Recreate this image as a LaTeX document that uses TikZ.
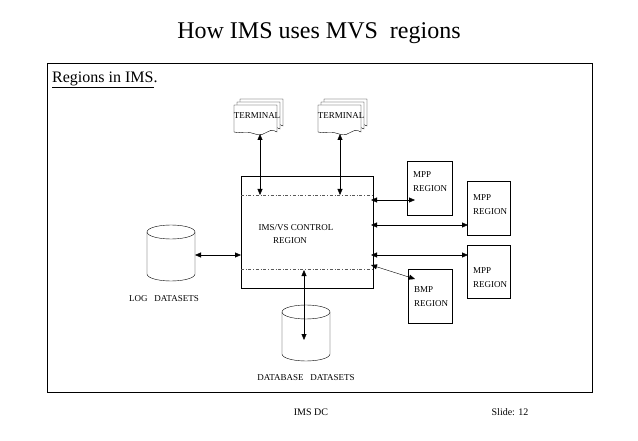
\documentclass[tikz,border=0pt]{standalone}
\usepackage{fontspec}
\setmainfont{Liberation Serif}
\usetikzlibrary{arrows.meta}
\begin{document}
\begin{tikzpicture}[x=1pt,y=-1pt,
  box/.style={draw,thin},
  lbl/.style={font=\fontsize{9}{10}\selectfont,align=left,inner sep=0},
  link/.style={{Triangle[length=6pt,width=5pt]}-{Triangle[length=6pt,width=5pt]},thin},
  pics/terminal/.style={code={
    \foreach \d in {6,3,0}{
      \filldraw[fill=white] (\d,-\d) -- ++(0,-27) -- ++(43,0) -- ++(0,27)
        .. controls ++(-10,-6) and ++(12,4) .. ++(-22,2)
        .. controls ++(-12,-4) and ++(10,2) .. cycle;}
  }},
  pics/drum/.style={code={
    \draw[thin] (-24,-21) -- (-24,21) arc[start angle=180,end angle=360,x radius=24,y radius=-7]
      -- (24,-21);
    \draw[thin] (0,-21) ellipse[x radius=24,y radius=7];
  }}]
\useasboundingbox (0,0) rectangle (638,441);
\node[font=\fontsize{24}{26}\selectfont] (title) at (319,33) {How IMS uses MVS\ \ regions};
\draw[thin] (47,63) rectangle (592,392);
\node[anchor=west,inner sep=0,font=\fontsize{16}{18}\selectfont] (sub) at (52,80) {\underline{Regions in IMS}.};

% terminals
\pic at (234,132) {terminal};
\node[lbl] (t1) at (257,116) {TERMINAL};
\coordinate (t1b) at (260,134);
\pic at (318,132) {terminal};
\node[lbl] (t2) at (341,116) {TERMINAL};
\coordinate (t2b) at (340,134);

% control region
\draw[box] (241,176) rectangle (373,288);
\draw[thin,dash dot,gray!70!black] (241,195) -- (373,195);
\draw[thin,dash dot,gray!70!black] (241,269) -- (373,269);
\node[lbl,align=center] (ctl) at (296,234) {IMS/VS CONTROL\\[3pt]\hspace*{-12pt}REGION};
\coordinate (c1) at (260,195);
\coordinate (c2) at (340,195);

% dependent regions
\draw[box] (407,161) rectangle (452,215);
\node[lbl,anchor=north west] (m1) at (413,171) {MPP\\[4pt]REGION};
\draw[box] (467,181) rectangle (510,235);
\node[lbl,anchor=north west] (m2) at (473,194) {MPP\\[4pt]REGION};
\draw[box] (467,245) rectangle (510,298);
\node[lbl,anchor=north west] (m3) at (473,267) {MPP\\[4pt]REGION};
\draw[box] (408,269) rectangle (452,323);
\node[lbl,anchor=north west] (b1) at (414,286) {BMP\\[4pt]REGION};

\draw[link] (t1b) -- (c1);
\draw[link] (t2b) -- (c2);
\draw[link] (371,200) -- (415,200);
\draw[link] (371,225) -- (468,225);
\draw[link] (371,255) -- (468,255);
\draw[link] (371,265) -- (415,279);

% datasets
\pic at (171,253) {drum};
\coordinate (logr) at (195,255);
\node[lbl] (logl) at (164,299) {LOG\ \ \ DATASETS};
\pic at (306,333) {drum};
\node[lbl] (dbl) at (306,378) {DATABASE\ \ \ DATASETS};
\draw[link] (logr) -- (241,255);
\draw[link] (304,270) -- (304,340);

% footer
\node[font=\fontsize{10}{12}\selectfont] (ft) at (311,412) {IMS DC};
\node[font=\fontsize{10}{12}\selectfont] (sl) at (510,412) {Slide: 12};
\end{tikzpicture}
\end{document}
